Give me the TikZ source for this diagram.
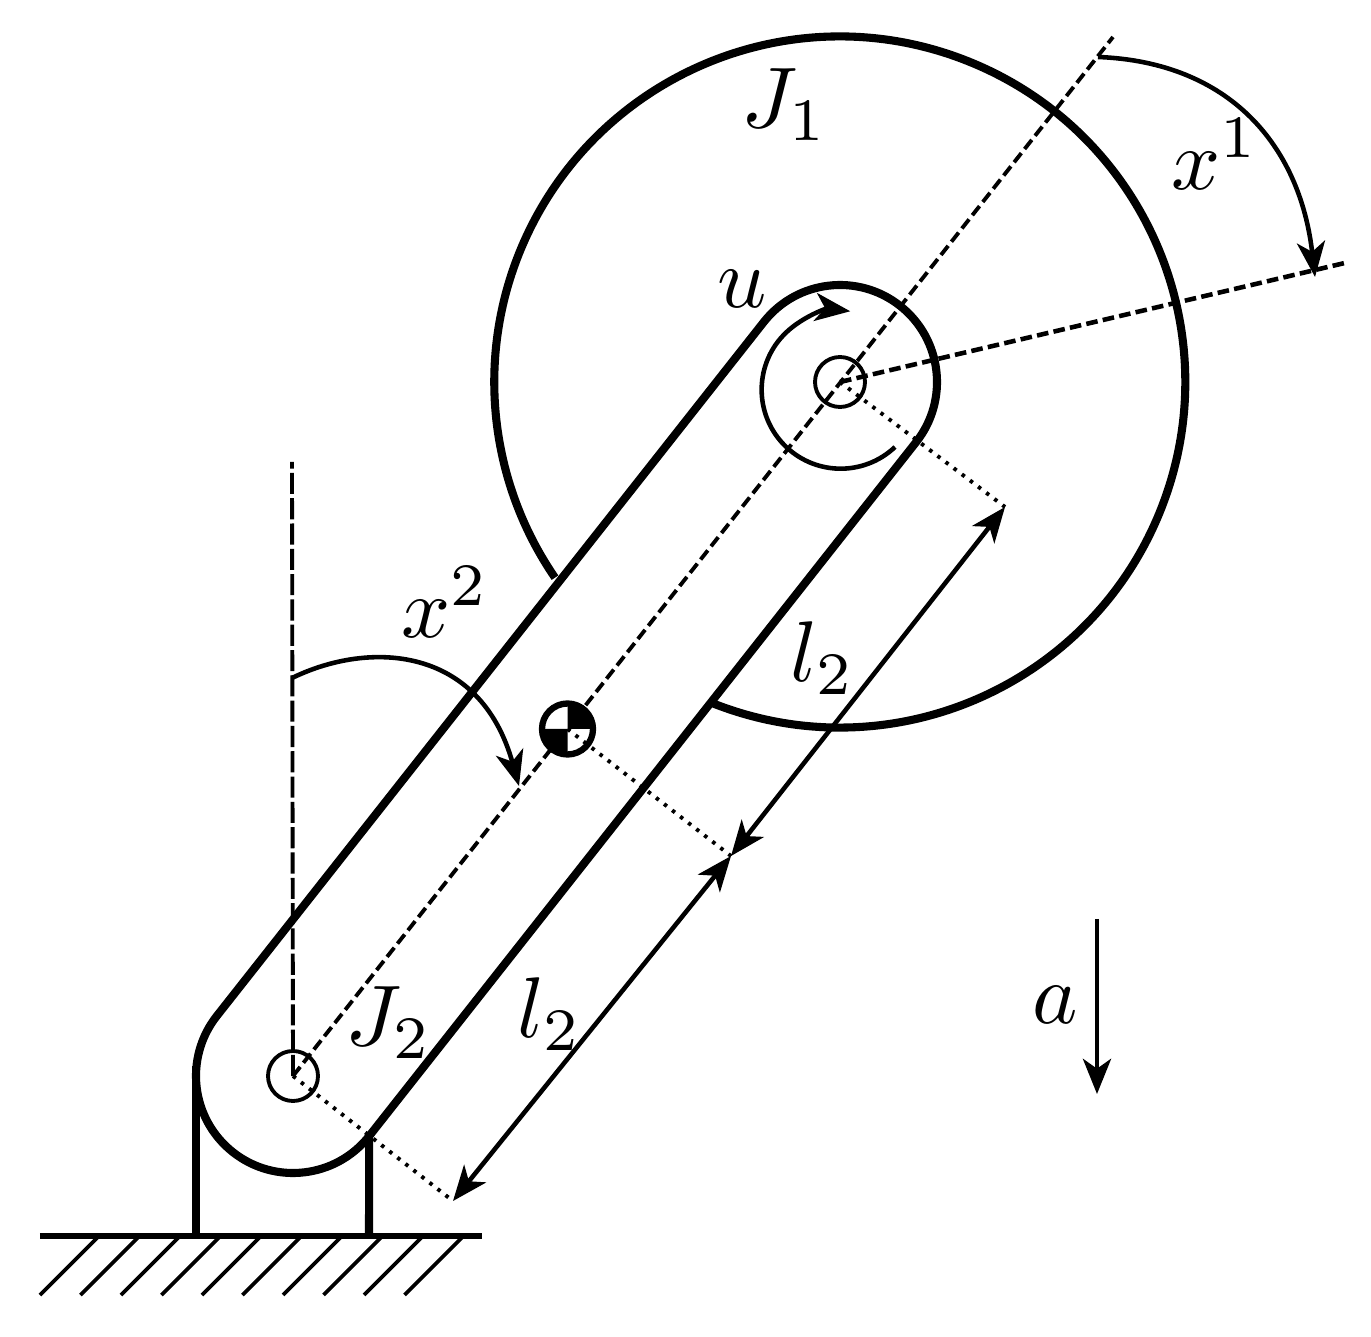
\documentclass[tikz,border=0pt]{standalone}
\usepackage{amsmath}
\usetikzlibrary{positioning,arrows.meta,calc}

\begin{document}
\begin{tikzpicture}[
        bodyline/.style={line width=2.3pt},
        pivotnode/.style={circle, draw, line width=1.1pt, minimum size=5mm, inner sep=0pt, outer sep=0pt},
        comnode/.style={circle, draw, fill=white, line width=1.8pt, minimum size=5.1mm, inner sep=0pt, outer sep=0pt},
        centerline/.style={line width=1.1pt, dash pattern=on 3.3pt off 1.5pt},
        dotline/.style={line width=1.1pt, dash pattern=on 1pt off 1.9pt},
        thinarrow/.style={line width=1.3pt, -{Stealth[length=10pt, width=8pt, inset=2.8pt]}},
        dimarrow/.style={line width=1.3pt, {Stealth[length=10pt, width=8pt, inset=2.8pt]}-{Stealth[length=10pt, width=8pt, inset=2.8pt]}},
        hatchline/.style={line width=1.1pt},
        labelnode/.style={scale=2.45, inner sep=0pt}]

        \useasboundingbox (0,0) rectangle (13.71,13.36);

        % disc, link and the two pivots
        \node[pivotnode] (hub) at (8.40,9.54) {};
        \node[pivotnode] (pivot) at (2.93,2.60) {};
        \coordinate (upper1) at ($(hub.center)+(141.75:0.97)$);
        \coordinate (upper2) at ($(pivot.center)+(141.75:0.97)$);
        \coordinate (lower1) at ($(hub.center)+(-38.25:0.97)$);
        \coordinate (lower2) at ($(pivot.center)+(-38.25:0.97)$);

        \draw[bodyline] (7.12,6.33) arc (248.3:574.5:3.455);
        \draw[bodyline] (upper1) arc (141.75:-38.25:0.97) -- (lower2) arc (321.75:141.75:0.97) -- cycle;

        % supports and ground
        \coordinate (ground1) at (0.40,1.00);
        \coordinate (ground2) at (4.82,1.00);
        \coordinate (foot1) at (1.96,1.00);
        \coordinate (foot2) at (3.69,1.00);
        \draw[line width=1.5pt] (ground1) -- (ground2);
        \draw[bodyline] (foot1) -- (1.96,2.70);
        \draw[bodyline] (foot2) -- (lower2);

        \coordinate (h1) at (0.99,1.00);
        \coordinate[right=0.405cm of h1] (h2);
        \coordinate[right=0.405cm of h2] (h3);
        \coordinate[right=0.405cm of h3] (h4);
        \coordinate[right=0.405cm of h4] (h5);
        \coordinate[right=0.405cm of h5] (h6);
        \coordinate[right=0.405cm of h6] (h7);
        \coordinate[right=0.405cm of h7] (h8);
        \coordinate[right=0.405cm of h8] (h9);
        \coordinate[right=0.405cm of h9] (h10);
        \draw[hatchline] (h1) -- ++(-0.59,-0.59);
        \draw[hatchline] (h2) -- ++(-0.59,-0.59);
        \draw[hatchline] (h3) -- ++(-0.59,-0.59);
        \draw[hatchline] (h4) -- ++(-0.59,-0.59);
        \draw[hatchline] (h5) -- ++(-0.59,-0.59);
        \draw[hatchline] (h6) -- ++(-0.59,-0.59);
        \draw[hatchline] (h7) -- ++(-0.59,-0.59);
        \draw[hatchline] (h8) -- ++(-0.59,-0.59);
        \draw[hatchline] (h9) -- ++(-0.59,-0.59);
        \draw[hatchline] (h10) -- ++(-0.59,-0.59);

        % center lines
        \coordinate (axis1) at (11.13,12.99);
        \coordinate (axis2) at (13.49,10.74);
        \coordinate (vert) at (2.92,8.74);
        \draw[centerline] (pivot.center) -- (axis1);
        \draw[centerline, line width=1.3pt] (hub.center) -- (axis2);
        \draw[centerline, dash pattern=on 6pt off 1.2pt] (pivot.center) -- (vert);

        % center of mass
        \node[comnode] (com) at (5.675,6.07) {};
        \fill (com.center) -- (com.north) arc (90:0:2.55mm) -- cycle;
        \fill (com.center) -- (com.south) arc (270:180:2.55mm) -- cycle;

        % dotted offsets and lengths
        \coordinate (tip1) at (10.05,8.29);
        \coordinate (tip2) at (7.31,4.80);
        \coordinate (tip3) at (4.53,1.35);
        \draw[dotline] (hub.center) -- (tip1);
        \draw[dotline] (com.center) -- (tip2);
        \draw[dotline] (pivot.center) -- (tip3);
        \draw[dimarrow] (tip1) -- (tip2);
        \draw[dimarrow] (tip2) -- (tip3);

        % angles, torque, gravity
        \coordinate (ang1a) at (10.98,12.79);
        \coordinate (ang1b) at (13.15,10.59);
        \coordinate (ang2a) at (2.92,6.58);
        \coordinate (ang2b) at (5.19,5.50);
        \draw[thinarrow] (ang1a) .. controls (12.30,12.74) and (13.00,11.90) .. (ang1b);
        \draw[thinarrow] (ang2a) .. controls (3.70,6.96) and (4.80,6.90) .. (ang2b);
        \draw[thinarrow] (8.95,8.89) arc (-46.5:-277:0.79);
        \coordinate (grav1) at (10.97,4.17);
        \coordinate (grav2) at (10.97,2.42);
        \draw[thinarrow] (grav1) -- (grav2);

        % labels
        \node[labelnode] (J1) at (7.85,12.31) {$J_1$};
        \node[labelnode] (J2) at (3.89,3.13) {$J_2$};
        \node[labelnode] (x1) at (12.15,11.82) {$x^1$};
        \node[labelnode] (x2) at (4.45,7.34) {$x^2$};
        \node[labelnode] (u) at (7.42,10.47) {$u$};
        \node[labelnode] (l1) at (8.23,6.78) {$l_2$};
        \node[labelnode] (l2) at (5.50,3.22) {$l_2$};
        \node[labelnode] (a) at (10.55,3.31) {$a$};

        \end{tikzpicture}
\end{document}
